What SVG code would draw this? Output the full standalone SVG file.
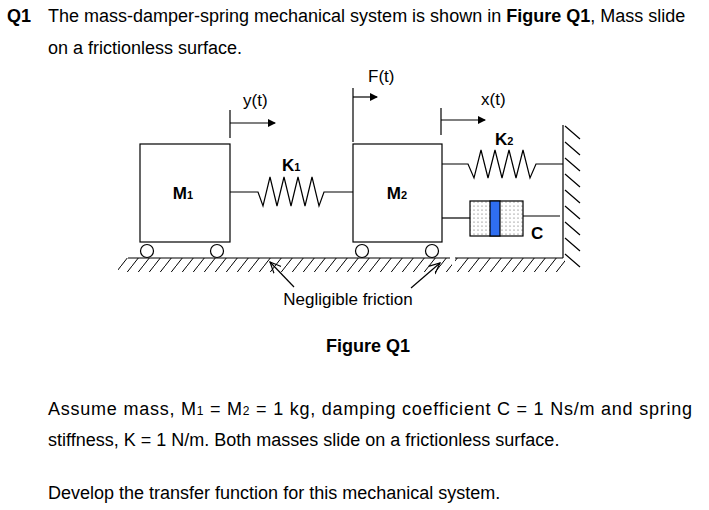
<svg xmlns="http://www.w3.org/2000/svg" width="709" height="510" viewBox="0 0 709 510">
<defs>
<marker id="ah" markerWidth="8" markerHeight="8" refX="7" refY="4" orient="auto" markerUnits="userSpaceOnUse"><path d="M0,0 L8,4 L0,8 z" fill="#000"/></marker>
<marker id="oa" markerWidth="12" markerHeight="12" refX="11" refY="6" orient="auto" markerUnits="userSpaceOnUse"><path d="M0,1 L11,6 L0,11" fill="none" stroke="#000" stroke-width="1.2"/></marker>
<pattern id="dots" width="4" height="4" patternUnits="userSpaceOnUse"><rect width="4" height="4" fill="#fff"/><circle cx="2" cy="2" r="0.6" fill="#555"/></pattern>
<pattern id="hatch" width="11" height="14" patternUnits="userSpaceOnUse"><line x1="11" y1="0" x2="0" y2="14" stroke="#000" stroke-width="1"/></pattern>
</defs>
<style>
text{font-family:"Liberation Sans",Arial,sans-serif;fill:#000}
.t{font-size:18px}
.b{font-weight:bold}
.l{font-size:17px}
.s{stroke:#000;stroke-width:1.2;fill:none}
.box{fill:#fff;stroke:#000;stroke-width:1.2}
</style>
<rect width="709" height="510" fill="#fff"/>
<text class="t b" x="7" y="22">Q1</text>
<text class="t" x="48" y="22">The mass-damper-spring mechanical system is shown in <tspan class="b">Figure Q1</tspan>, Mass slide</text>
<text class="t" x="48" y="54">on a frictionless surface.</text>

<g id="ground">
<rect x="118" y="258" width="334" height="14" fill="url(#hatch)"/>
<rect x="455" y="258" width="110" height="14" fill="url(#hatch)"/>
<line class="s" x1="128" y1="258" x2="450" y2="258"/>
<line class="s" x1="455" y1="258" x2="563" y2="258"/>
</g>
<g id="wall">
<line class="s" x1="563" y1="125" x2="563" y2="258"/>
<path class="s" d="M565,126 l15,13 M565,142 l15,13 M565,158 l15,13 M565,174 l15,13 M565,190 l15,13 M565,206 l15,13 M565,222 l15,13 M565,238 l15,13 M565,254 l15,13"/>
</g>
<g id="M1">
<rect class="box" x="140" y="144" width="90" height="98"/>
<circle class="box" cx="147" cy="251" r="6.5"/>
<circle class="box" cx="217" cy="251" r="6.5"/>
<text class="l b" x="183" y="199" text-anchor="middle">M<tspan font-size="11">1</tspan></text>
</g>
<g id="M2">
<rect class="box" x="353" y="144" width="89" height="98"/>
<circle class="box" cx="362" cy="251" r="6.5"/>
<circle class="box" cx="432" cy="251" r="6.5"/>
<text class="l b" x="397" y="199" text-anchor="middle">M<tspan font-size="11">2</tspan></text>
</g>
<g id="damper">
<rect x="470" y="201" width="53" height="35" fill="url(#dots)" stroke="#000" stroke-width="1.2"/>
<rect x="490" y="201" width="10" height="35" fill="#2f6ef0" stroke="#000" stroke-width="1.2"/>
<text class="l b" x="531" y="239">C</text>
</g>
<g id="connectors">
<path class="s" d="M230,192 H258 L263,206 L270,177 L277,206 L284,177 L291,206 L298,177 L305,206 L312,177 L319,206 L324,192 H353"/>
<text class="l b" x="282" y="171">K<tspan font-size="11">1</tspan></text>
<path class="s" d="M442,164 H468 L474,178 L481,150 L488,178 L495,150 L502,178 L509,150 L516,178 L523,150 L530,178 L536,164 H563"/>
<text class="l b" x="495" y="145">K<tspan font-size="11">2</tspan></text>
<line class="s" x1="442" y1="218" x2="470" y2="218"/>
<line class="s" x1="523" y1="216" x2="560" y2="216"/>
<line class="s" x1="230" y1="110" x2="230" y2="138"/>
<line class="s" x1="230" y1="123" x2="275" y2="123" marker-end="url(#ah)"/>
<text class="l" x="243" y="106">y(t)</text>
<line class="s" x1="353" y1="88" x2="353" y2="142"/>
<line class="s" x1="353" y1="97" x2="377" y2="97" marker-end="url(#ah)"/>
<text class="l" x="368" y="82">F(t)</text>
<line class="s" x1="441" y1="108" x2="441" y2="135"/>
<line class="s" x1="441" y1="120" x2="485" y2="120" marker-end="url(#ah)"/>
<text class="l" x="481" y="105">x(t)</text>
<line class="s" x1="294" y1="287" x2="270" y2="262" marker-end="url(#oa)"/>
<line class="s" x1="411" y1="288" x2="440" y2="263" marker-end="url(#oa)"/>
</g>
<text class="l" x="348" y="305" text-anchor="middle">Negligible friction</text>
<text class="t b" x="368" y="352" text-anchor="middle">Figure Q1</text>
<text class="t" x="48" y="415" textLength="644" lengthAdjust="spacing">Assume mass, M<tspan font-size="12">1</tspan> = M<tspan font-size="12">2</tspan> = 1 kg, damping coefficient C = 1 Ns/m and spring</text>
<text class="t" x="48" y="446">stiffness, K = 1 N/m. Both masses slide on a frictionless surface.</text>
<text class="t" x="48" y="499">Develop the transfer function for this mechanical system.</text>
</svg>
